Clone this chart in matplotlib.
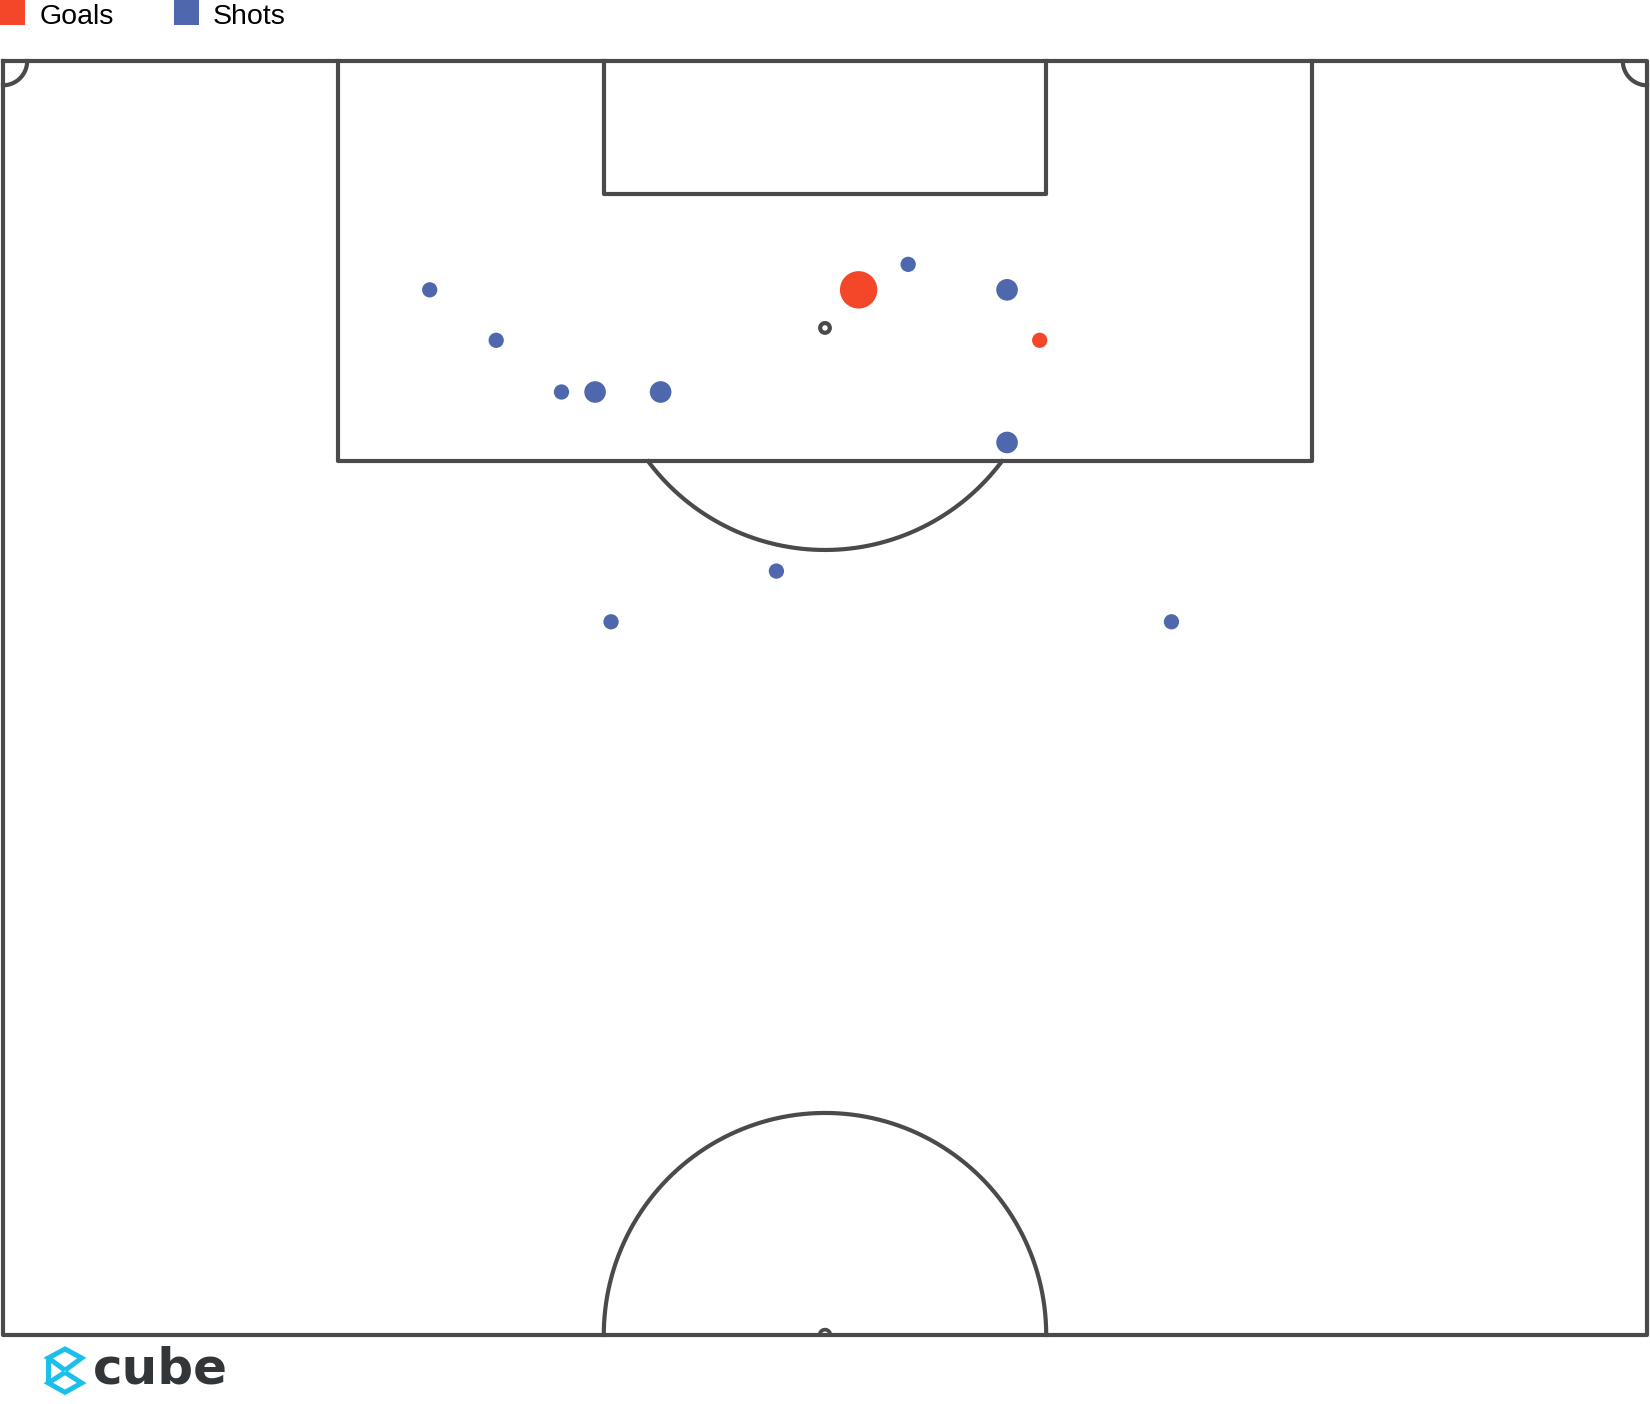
import numpy as np
import matplotlib
matplotlib.use("Agg")
import matplotlib.pyplot as plt
from matplotlib.patches import Rectangle, Circle
from matplotlib.lines import Line2D

# ---------------- data ----------------
# pitch coordinates in metres: x across the pitch (0..68), y = distance from goal line (0..52.5)
shot_x = [17.65, 20.40, 23.10, 24.49, 27.20, 37.44, 41.53, 41.53, 31.99, 25.15, 48.33]
shot_y = [9.43, 11.51, 13.64, 13.64, 13.64, 8.38, 9.43, 15.72, 21.02, 23.11, 23.11]
shot_xg = [0.05, 0.05, 0.05, 0.10, 0.10, 0.05, 0.10, 0.10, 0.05, 0.05, 0.05]

goal_x = [35.39, 42.88]
goal_y = [9.43, 11.51]
goal_xg = [0.30, 0.05]

legend_labels = ["Goals", "Shots"]
brand = "cube"

# ---------------- style ----------------
W, H = 1650, 1404
LINE = "#4a4a4a"
RED = "#F4472A"
BLUE = "#4E67AD"
CYAN = "#1BC0EA"
LW = 3.0
SIZE_K = 2420

fig = plt.figure(figsize=(W / 100, H / 100), dpi=100)
fig.patch.set_facecolor("white")

def fx(px):
    return px / W

def fy(py):
    return 1 - py / H

ax = fig.add_axes([fx(3), fy(1335), (1647 - 3) / W, (1335 - 61) / H])
ax.set_xlim(0, 68)
ax.set_ylim(52.5, 0)
ax.axis("off")

def seg(xs, ys, **kw):
    ax.plot(xs, ys, color=LINE, lw=LW, solid_capstyle="projecting", clip_on=False, zorder=2, **kw)

# outer half pitch
seg([0, 68, 68, 0, 0], [0, 0, 52.5, 52.5, 0])
# penalty box
seg([13.84, 13.84, 54.16, 54.16], [0, 16.5, 16.5, 0])
# six-yard box
seg([24.84, 24.84, 43.16, 43.16], [0, 5.5, 5.5, 0])

# penalty arc
t0 = np.arcsin(5.5 / 9.15)
t = np.linspace(t0, np.pi - t0, 200)
ax.plot(34 + 9.15 * np.cos(t), 11 + 9.15 * np.sin(t), color=LINE, lw=LW, zorder=2, clip_on=False)

# centre circle (half)
t = np.linspace(0, np.pi, 300)
ax.plot(34 + 9.15 * np.cos(t), 52.5 - 9.15 * np.sin(t), color=LINE, lw=LW, zorder=2, clip_on=False)

# corner arcs
t = np.linspace(0, np.pi / 2, 50)
ax.plot(1.0 * np.cos(t), 1.0 * np.sin(t), color=LINE, lw=LW, zorder=2, clip_on=False)
ax.plot(68 - 1.0 * np.cos(t), 1.0 * np.sin(t), color=LINE, lw=LW, zorder=2, clip_on=False)

# penalty spot
ax.add_patch(Circle((34, 11), 0.2, facecolor="white", edgecolor=LINE, lw=LW, zorder=3))
# centre spot (half ring)
t = np.linspace(0, np.pi, 50)
ax.plot(34 + 0.22 * np.cos(t), 52.5 - 0.22 * np.sin(t), color=LINE, lw=LW * 0.9, zorder=2, clip_on=False)

# shots and goals
ax.scatter(shot_x, shot_y, s=np.array(shot_xg) * SIZE_K, color=BLUE, linewidths=0, zorder=4)
ax.scatter(goal_x, goal_y, s=np.array(goal_xg) * SIZE_K, color=RED, linewidths=0, zorder=4)

# legend (manual)
for (sx, tx), lab, col in zip([(0, 40), (174, 213)], legend_labels, [RED, BLUE]):
    fig.add_artist(Rectangle((fx(sx), fy(25)), 25 / W, 25 / H, transform=fig.transFigure,
                             facecolor=col, edgecolor="none"))
    fig.text(fx(tx), fy(24), lab, fontsize=20.5, family="Liberation Sans", va="baseline",
             ha="left", color="black")

# logo
def icon_line(pts):
    xs = [fx(40 + p[0] / 3) for p in pts]
    ys = [fy(1343 + p[1] / 3) for p in pts]
    fig.add_artist(Line2D(xs, ys, transform=fig.transFigure, color=CYAN, lw=3.6,
                          solid_joinstyle="miter", solid_capstyle="butt"))

icon_line([(75, 82), (25, 45), (75, 18), (125, 45), (75, 82)])
icon_line([(75, 88), (125, 120), (75, 148), (25, 120), (75, 88)])
icon_line([(25, 45), (25, 120)])

fig.text(fx(93), fy(1384), brand, fontsize=36, fontweight="heavy", family="DejaVu Sans",
         color="#333638", va="baseline", ha="left")

fig.savefig("out.png", dpi=100, facecolor="white")
